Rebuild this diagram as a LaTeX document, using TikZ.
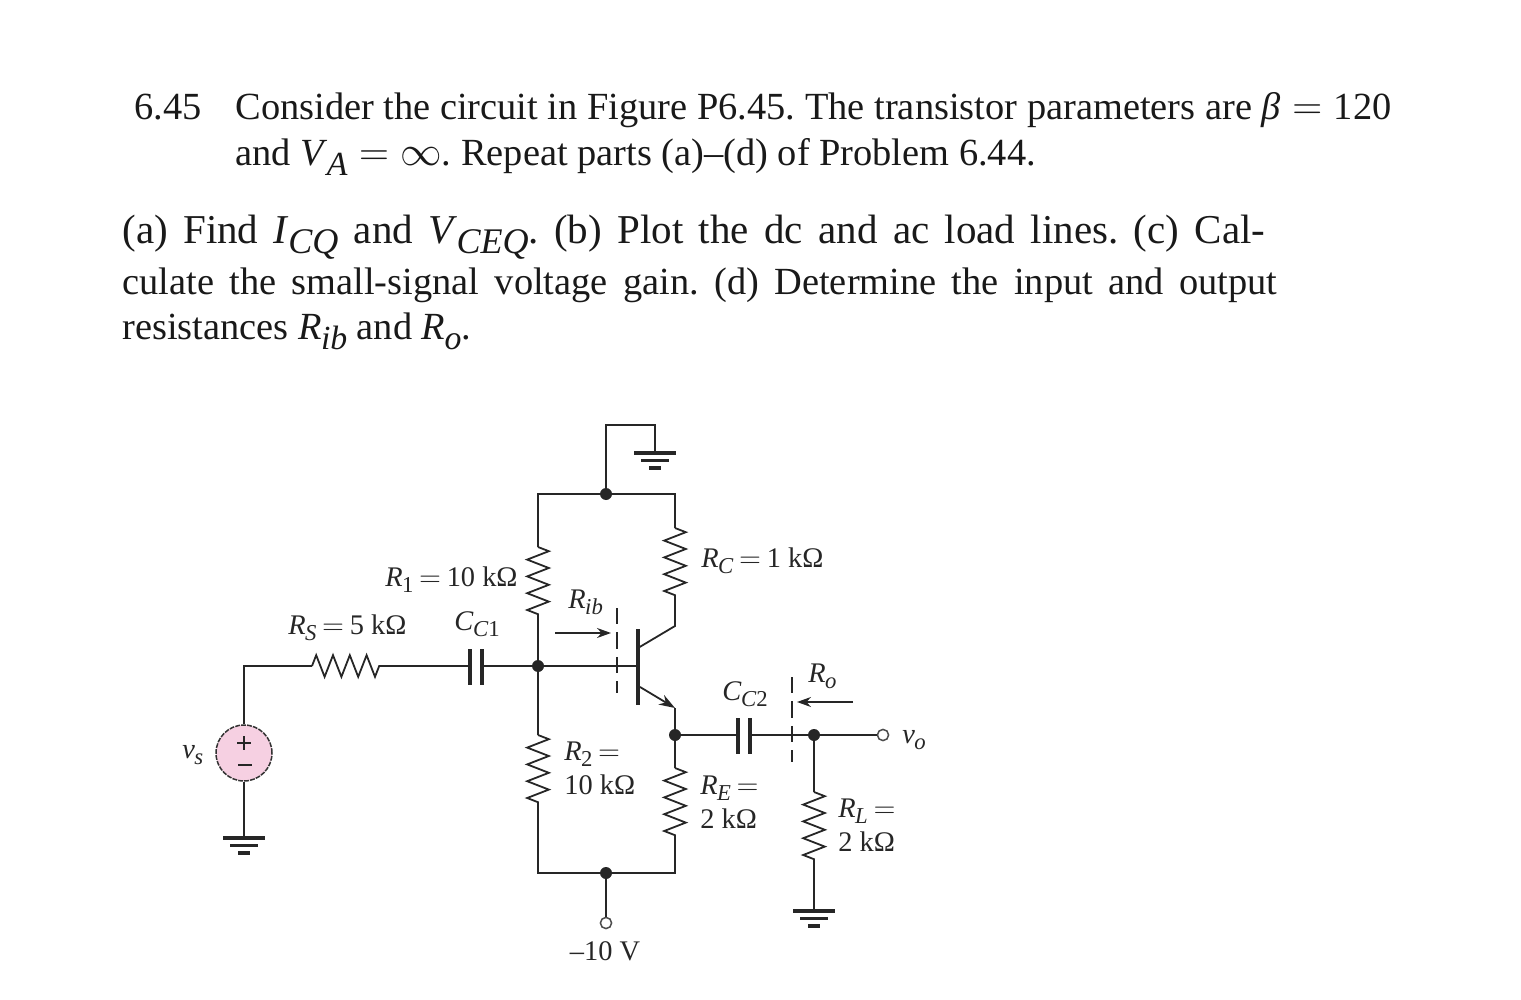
\documentclass[tikz,border=0pt]{standalone}
\usepackage{fontspec}
\setmainfont{Liberation Serif}
\usetikzlibrary{decorations.pathmorphing,arrows.meta}
\newcommand{\subscale}{0.8}
\newcommand{\symsub}[2]{\textit{#1}\kern-0.02em\raisebox{-0.24em}{\scalebox{\subscale}{\textit{#2}}}}
\newcommand{\eqsign}{\kern.2em$=$\kern.2em}
\definecolor{srcpink}{RGB}{246,208,226}
\tikzset{
    wire/.style={line width=0.9pt, black!85},
    reswire/.style={wire, decorate, decoration={zigzag, segment length=8.4pt, amplitude=5.4pt, pre length=0pt, post length=0pt}},
    plate/.style={line width=1.9pt, black!85},
    dashwire/.style={line width=0.75pt, black!85, dash pattern=on 8.2pt off 4pt},
    lookarrow/.style={line width=0.75pt, black!85, -{Stealth[length=7pt, width=5pt]}},
    junction/.style={circle, fill=black!85, inner sep=0pt, minimum size=6pt},
    terminal/.style={circle, draw=black!70, fill=white, line width=0.75pt, inner sep=0pt, minimum size=5.6pt},
    lbl/.style={inner sep=0pt, font=\fontsize{14.2pt}{17pt}\selectfont, text=black!85},
    para/.style={inner sep=0pt, anchor=base west, text=black!90, execute at begin node={\renewcommand{\subscale}{0.88}}},
    gnd/.pic={
        \draw[line width=1.7pt, black!85] (-21,0)--(21,0);
        \draw[line width=1.7pt, black!85] (-14,7.5)--(14,7.5);
        \draw[line width=2pt, black!85] (-6,14.5)--(6,14.5);
    }
}
\frenchspacing
\begin{document}
\begin{tikzpicture}[x=0.5pt, y=-0.5pt]
    \useasboundingbox (0,0) rectangle (1521,1000);
    % problem text
    \node[para, font=\fontsize{19.2pt}{22pt}\selectfont] (numline) at (134,120) {6.45};
    \node[para, font=\fontsize{19.2pt}{22pt}\selectfont] (prob1) at (235,120) {\hbox to 578pt{Consider the circuit in Figure P6.45. The transistor parameters are \textit{β}${} = {}$120}};
    \node[para, font=\fontsize{19.2pt}{22pt}\selectfont] (prob2) at (235,166) {and \symsub{V}{A}${} = \infty$. Repeat parts (a)--(d) of Problem 6.44.};
    \node[para, font=\fontsize{20.5pt}{24pt}\selectfont] (ask1) at (122,244) {\hbox to 571.5pt{(a) Find \symsub{I}{CQ} and \symsub{V}{CEQ}. (b) Plot the dc and ac load lines. (c) Cal-}};
    \node[para, font=\fontsize{19.2pt}{22pt}\selectfont] (ask2) at (122,295) {\hbox to 577.5pt{culate the small-signal voltage gain. (d) Determine the input and output}};
    \node[para, font=\fontsize{19.2pt}{22pt}\selectfont] (ask3) at (122,340) {resistances \symsub{R}{ib} and \symsub{R}{o}.};
    % junctions
    \node[junction] (topdot) at (606,494) {};
    \node[junction] (basedot) at (538,666) {};
    \node[junction] (emdot) at (675,735) {};
    \node[junction] (outdot) at (814,735) {};
    \node[junction] (botdot) at (606,873) {};
    \node[terminal] (vee) at (606,923) {};
    \node[terminal] (vout) at (883,735) {};
    \node[circle, draw=black!80, dash pattern=on 2.4pt off 0.6pt, fill=srcpink, line width=0.75pt, inner sep=0pt, minimum size=28pt] (vsrc) at (244,753) {};
    % corners and resistor ends
    \coordinate (gndtop) at (655,453);
    \coordinate (gndcor) at (655,425);
    \coordinate (topcor) at (606,425);
    \coordinate (railtl) at (538,494);
    \coordinate (railtr) at (675,494);
    \coordinate (railbl) at (538,873);
    \coordinate (railbr) at (675,873);
    \coordinate (r1a) at (538,547);
    \coordinate (r1b) at (538,615);
    \coordinate (r2a) at (538,735);
    \coordinate (r2b) at (538,803);
    \coordinate (rca) at (675,528);
    \coordinate (rcb) at (675,597);
    \coordinate (rea) at (675,768);
    \coordinate (reb) at (675,837);
    \coordinate (rla) at (814,792);
    \coordinate (rlb) at (814,860);
    \coordinate (rsa) at (312,666);
    \coordinate (rsb) at (382,666);
    \coordinate (srccor) at (244,666);
    \coordinate (gndsrc) at (244,838);
    \coordinate (gndload) at (814,911);
    \coordinate (c1a) at (470,666);
    \coordinate (c1b) at (482,666);
    \coordinate (c2a) at (738,735);
    \coordinate (c2b) at (750,735);
    \coordinate (basepin) at (638,666);
    \coordinate (colbar) at (638,648);
    \coordinate (colend) at (675,626);
    \coordinate (embar) at (640,687);
    \coordinate (emend) at (675,708);
    % wires
    \draw[wire] (topdot) -- (topcor) -- (gndcor) -- (gndtop);
    \draw[wire] (r1a) -- (railtl) -- (railtr) -- (rca);
    \draw[wire] (r2b) -- (railbl) -- (railbr) -- (reb);
    \draw[wire] (botdot) -- (vee);
    \draw[wire] (r1b) -- (r2a);
    \draw[wire] (basedot) -- (basepin);
    \draw[wire] (c1b) -- (basedot);
    \draw[wire] (rcb) -- (colend) -- (colbar);
    \draw[wire] (emend) -- (rea);
    \draw[wire] (emdot) -- (c2a);
    \draw[wire] (c2b) -- (outdot);
    \draw[wire] (outdot) -- (vout);
    \draw[wire] (outdot) -- (rla);
    \draw[wire] (rlb) -- (gndload);
    \draw[wire] (vsrc) -- (srccor) -- (rsa);
    \draw[wire] (rsb) -- (c1a);
    \draw[wire] (vsrc) -- (gndsrc);
    % emitter with its arrow
    \draw[wire, -{Stealth[length=8pt, width=5.5pt]}] (embar) -- (emend);
    % resistors
    \draw[reswire] (r1a) -- (r1b);
    \draw[reswire] (r2a) -- (r2b);
    \draw[reswire] (rca) -- (rcb);
    \draw[reswire] (rea) -- (reb);
    \draw[reswire] (rla) -- (rlb);
    \draw[reswire] (rsa) -- (rsb);
    % capacitors and base bar
    \draw[plate] (470,649)--(470,685) (482,649)--(482,685);
    \draw[plate] (738,718)--(738,754) (750,718)--(750,754);
    \draw[plate] (638,629)--(638,705);
    % grounds
    \pic at (gndtop) {gnd};
    \pic at (gndsrc) {gnd};
    \pic at (gndload) {gnd};
    % source signs
    \draw[line width=0.75pt, black!85] (237,743)--(251,743) (244,736)--(244,750) (238,765)--(252,765);
    % look-in lines
    \draw[dashwire] (617,608)--(617,693);
    \draw[dashwire] (792,677)--(792,762);
    \coordinate (ribtail) at (555,633);
    \coordinate (ribtip) at (611,633);
    \coordinate (rotail) at (853,702);
    \coordinate (rotip) at (797,702);
    \draw[lookarrow] (ribtail) -- (ribtip);
    \draw[lookarrow] (rotail) -- (rotip);
    % labels
    \node[lbl, anchor=base east] (r1lbl) at (518,586) {\symsub{R}{\textup{1}}\eqsign 10 kΩ};
    \node[lbl, anchor=base west] (rslbl) at (288,634) {\symsub{R}{S}\eqsign 5 kΩ};
    \node[lbl, anchor=base west] (c1lbl) at (454,630) {\symsub{C}{C\textup{1}}};
    \node[lbl, anchor=base west] (riblbl) at (568,608) {\symsub{R}{ib}};
    \node[lbl, anchor=base west] (rclbl) at (701,567) {\symsub{R}{C}\eqsign 1 kΩ};
    \node[lbl, anchor=base west] (rolbl) at (808,682) {\symsub{R}{o}};
    \node[lbl, anchor=base west] (c2lbl) at (722,700) {\symsub{C}{C\textup{2}}};
    \node[lbl, anchor=base west] (r2lbl) at (564,760) {\symsub{R}{\textup{2}}\eqsign};
    \node[lbl, anchor=base west] (r2val) at (564,794) {10 kΩ};
    \node[lbl, anchor=base west] (relbl) at (700,794) {\symsub{R}{E}\eqsign};
    \node[lbl, anchor=base west] (reval) at (700,828) {2 kΩ};
    \node[lbl, anchor=base west] (rllbl) at (838,817) {\symsub{R}{L}\eqsign};
    \node[lbl, anchor=base west] (rlval) at (838,851) {2 kΩ};
    \node[lbl, anchor=base west] (vslbl) at (182,758) {\symsub{v}{s}};
    \node[lbl, anchor=base west] (volbl) at (902,743) {\symsub{v}{o}};
    \node[lbl, anchor=base] (veelbl) at (605,960) {--10 V};
\end{tikzpicture}
\end{document}
